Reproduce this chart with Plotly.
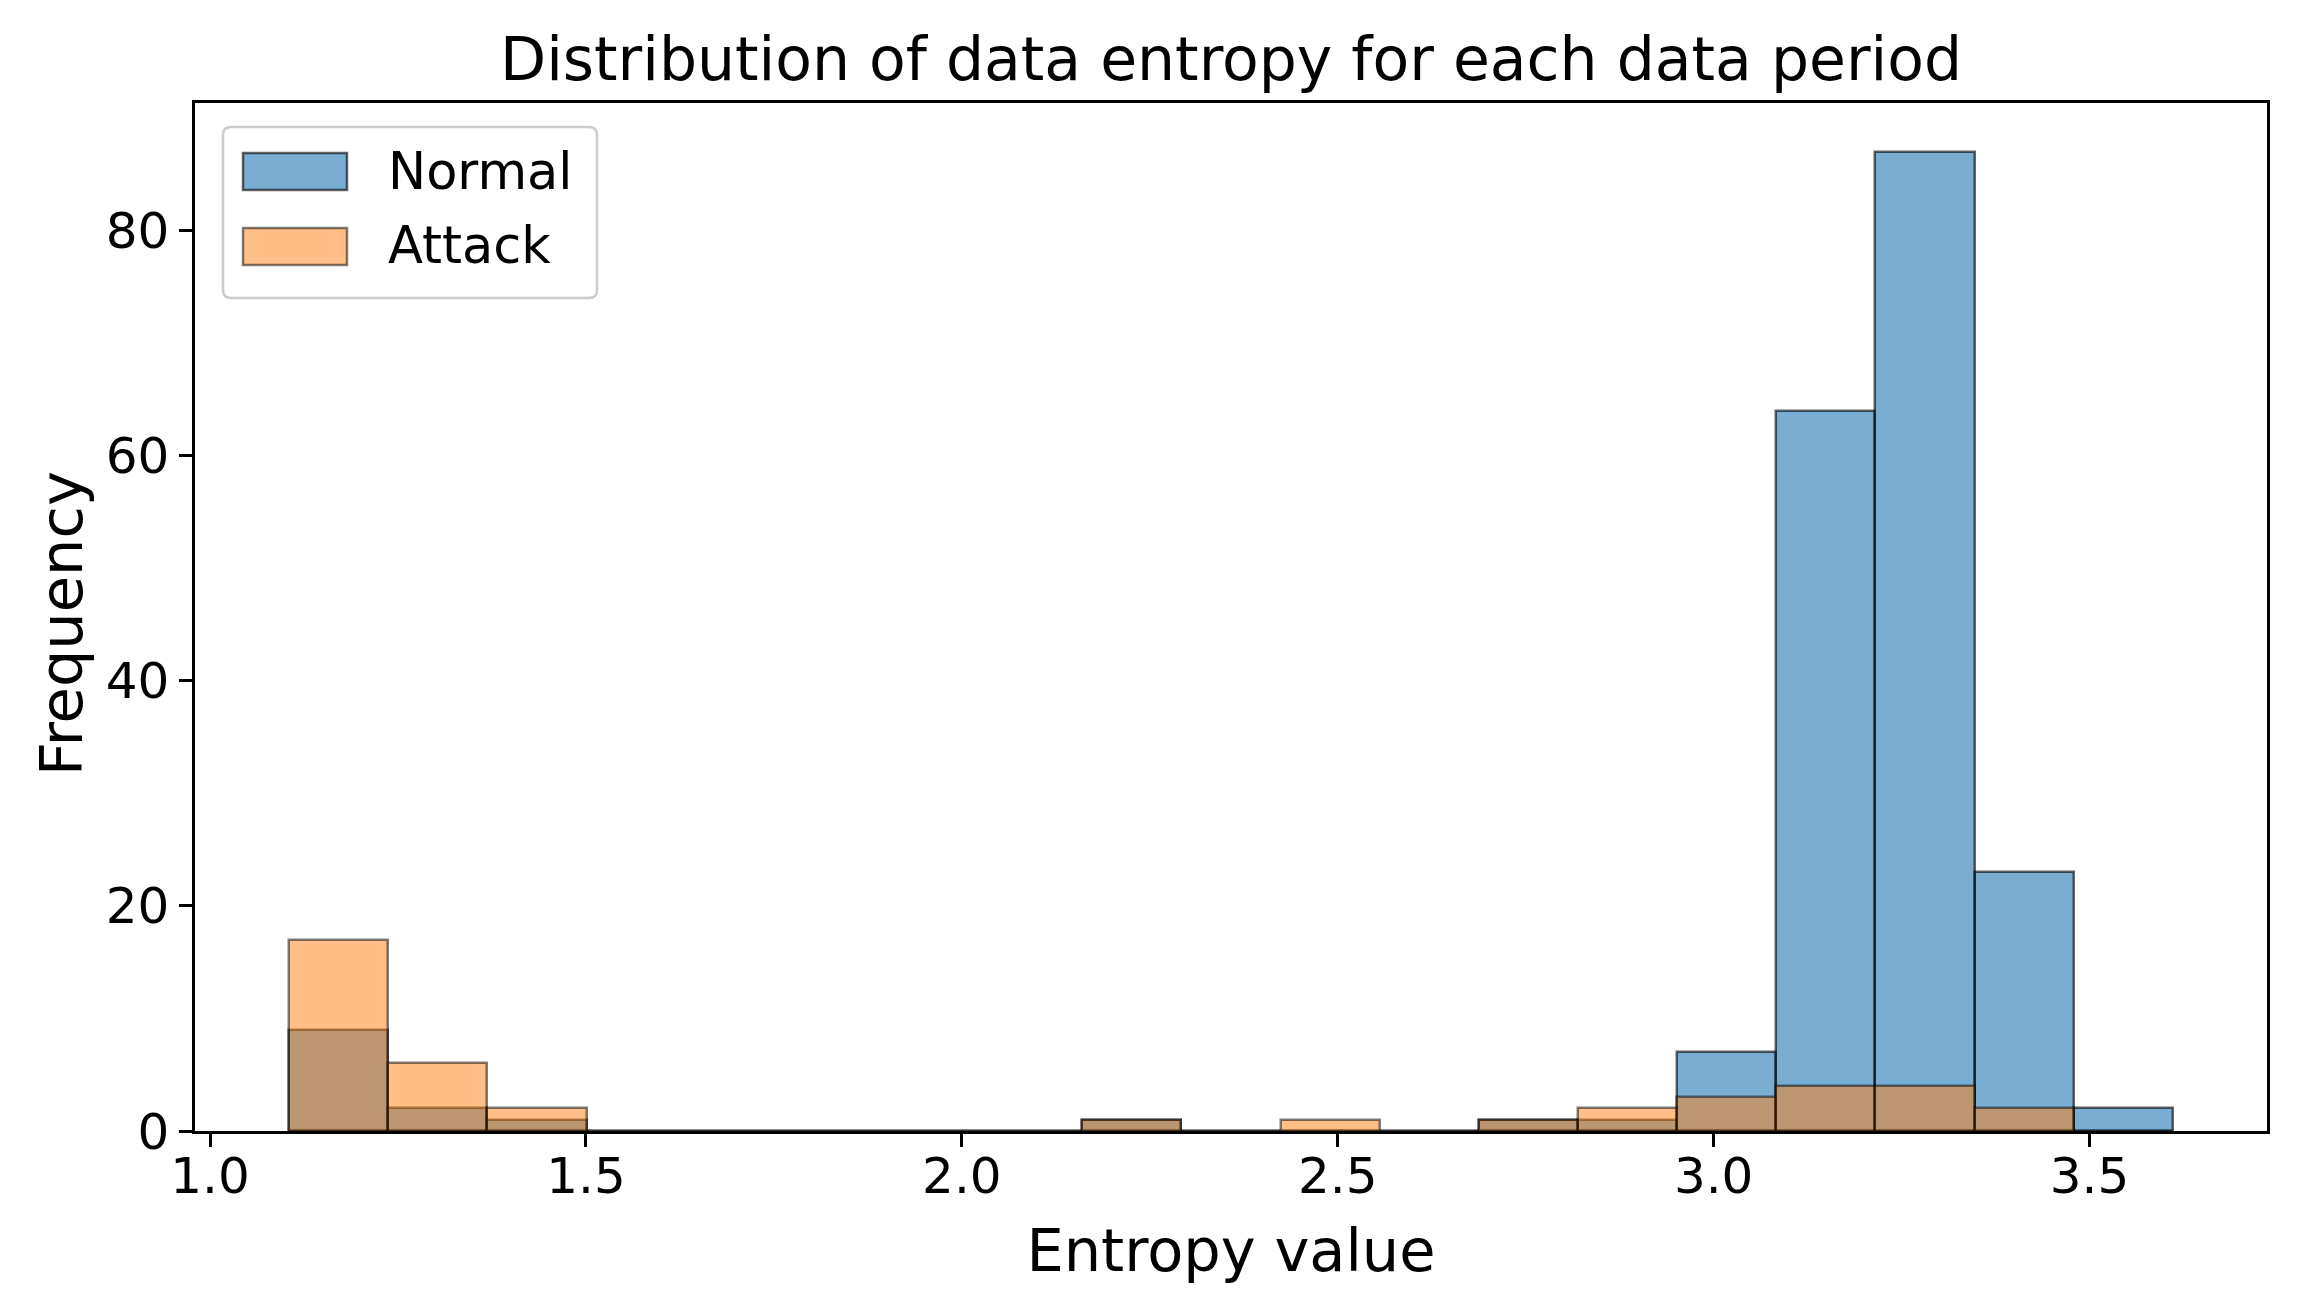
import plotly.graph_objects as go

# histogram bins (entropy value edges)
bin_edges = [1.105, 1.237, 1.369, 1.501, 1.633, 1.764, 1.896, 2.028, 2.160, 2.292,
             2.424, 2.556, 2.688, 2.820, 2.951, 3.083, 3.215, 3.347, 3.479, 3.611]
normal_counts = [9, 2, 1, 0, 0, 0, 0, 0, 1, 0, 0, 0, 1, 1, 7, 64, 87, 23, 2]
attack_counts = [17, 6, 2, 0, 0, 0, 0, 0, 1, 0, 1, 0, 1, 2, 3, 4, 4, 2, 0]
series_names = ["Normal", "Attack"]

x_ticks = [1.0, 1.5, 2.0, 2.5, 3.0, 3.5]
y_ticks = [0, 20, 40, 60, 80]

centers = [(a + b) / 2 for a, b in zip(bin_edges[:-1], bin_edges[1:])]
widths = [b - a for a, b in zip(bin_edges[:-1], bin_edges[1:])]

# the page body has an 8px margin, so the figure is made a bit smaller
# and the plot box is placed in page pixels
OFF = 8
W, H = 2299 - 2 * OFF, 1305 - 2 * OFF
box_l, box_r, box_t, box_b = 195, 2267, 103, 1131
ml, mt = box_l - OFF, box_t - OFF
mr, mb = W + OFF - box_r, H + OFF - box_b
pw, ph = box_r - box_l, box_b - box_t

def px_x(p):
    return (p - box_l) / pw

def px_y(p):
    return (box_b - p) / ph

FONT = "DejaVu Sans"
blue_fill = "rgba(31,119,180,0.6)"
blue_edge = "rgba(0,0,0,0.6)"
orange_fill = "rgba(255,127,14,0.5)"
orange_edge = "rgba(0,0,0,0.5)"

fig = go.Figure()
fig.add_trace(go.Bar(x=centers, y=normal_counts, width=widths, name=series_names[0],
                     marker={"color": blue_fill, "line": {"color": blue_edge, "width": 2.5}},
                     showlegend=False))
fig.add_trace(go.Bar(x=centers, y=attack_counts, width=widths, name=series_names[1],
                     marker={"color": orange_fill, "line": {"color": orange_edge, "width": 2.5}},
                     showlegend=False))

# legend drawn by hand so the swatches keep matplotlib's wide shape
x0, x1, y0, y1, r = 223, 597, 127, 298, 8
rx, ry = r / pw, r / ph
X0, X1, Y0, Y1 = px_x(x0), px_x(x1), px_y(y0), px_y(y1)
box = (f"M{X0 + rx},{Y0} L{X1 - rx},{Y0} Q{X1},{Y0} {X1},{Y0 - ry} "
       f"L{X1},{Y1 + ry} Q{X1},{Y1} {X1 - rx},{Y1} L{X0 + rx},{Y1} "
       f"Q{X0},{Y1} {X0},{Y1 + ry} L{X0},{Y0 - ry} Q{X0},{Y0} {X0 + rx},{Y0} Z")
shapes = [dict(type="path", path=box, xref="paper", yref="paper",
               fillcolor="rgba(255,255,255,0.8)", line={"color": "rgb(204,204,204)", "width": 2.5})]
annotations = []
for i, (name, fill, edge) in enumerate([(series_names[0], blue_fill, blue_edge),
                                        (series_names[1], orange_fill, orange_edge)]):
    top = 153 + i * 75
    shapes.append(dict(type="rect", xref="paper", yref="paper",
                       x0=px_x(243), x1=px_x(347), y0=px_y(top), y1=px_y(top + 37),
                       fillcolor=fill, line={"color": edge, "width": 2.5}))
    annotations.append(dict(text=name, xref="paper", yref="paper", x=px_x(386), y=px_y(top + 18),
                            xanchor="left", yanchor="middle", showarrow=False,
                            font={"family": FONT, "size": 51, "color": "black"}))

# y axis title as a rotated annotation to put it exactly where matplotlib had it
annotations.append(dict(text="Frequency", xref="paper", yref="paper", x=px_x(61), y=px_y(624),
                        xanchor="center", yanchor="middle", textangle=-90, showarrow=False,
                        font={"family": FONT, "size": 59, "color": "black"}))

axis_common = dict(showline=True, linecolor="black", linewidth=2.5, mirror=True,
                   ticks="outside", ticklen=13, tickwidth=2.5, tickcolor="black",
                   showgrid=False, zeroline=False,
                   tickfont={"family": FONT, "size": 50, "color": "black"})

fig.update_layout(
    width=W, height=H,
    margin={"l": ml, "r": mr, "t": mt, "b": mb},
    barmode="overlay", bargap=0,
    plot_bgcolor="white", paper_bgcolor="white",
    font={"family": FONT, "color": "black"},
    title={"text": "Distribution of data entropy for each data period",
           "x": 0.5, "xref": "paper", "xanchor": "center",
           "y": 1, "yref": "paper", "yanchor": "bottom", "pad": {"b": 23},
           "font": {"family": FONT, "size": 60, "color": "black"}},
    xaxis=dict(axis_common, range=[0.98, 3.736], tickvals=x_ticks, tickformat=".1f",
               ticklabelstandoff=-14,
               title={"text": "Entropy value", "standoff": 26,
                      "font": {"family": FONT, "size": 59, "color": "black"}}),
    yaxis=dict(axis_common, range=[0, 91.35], tickvals=y_ticks),
    shapes=shapes,
    annotations=annotations,
)

fig.write_html("out.html")
